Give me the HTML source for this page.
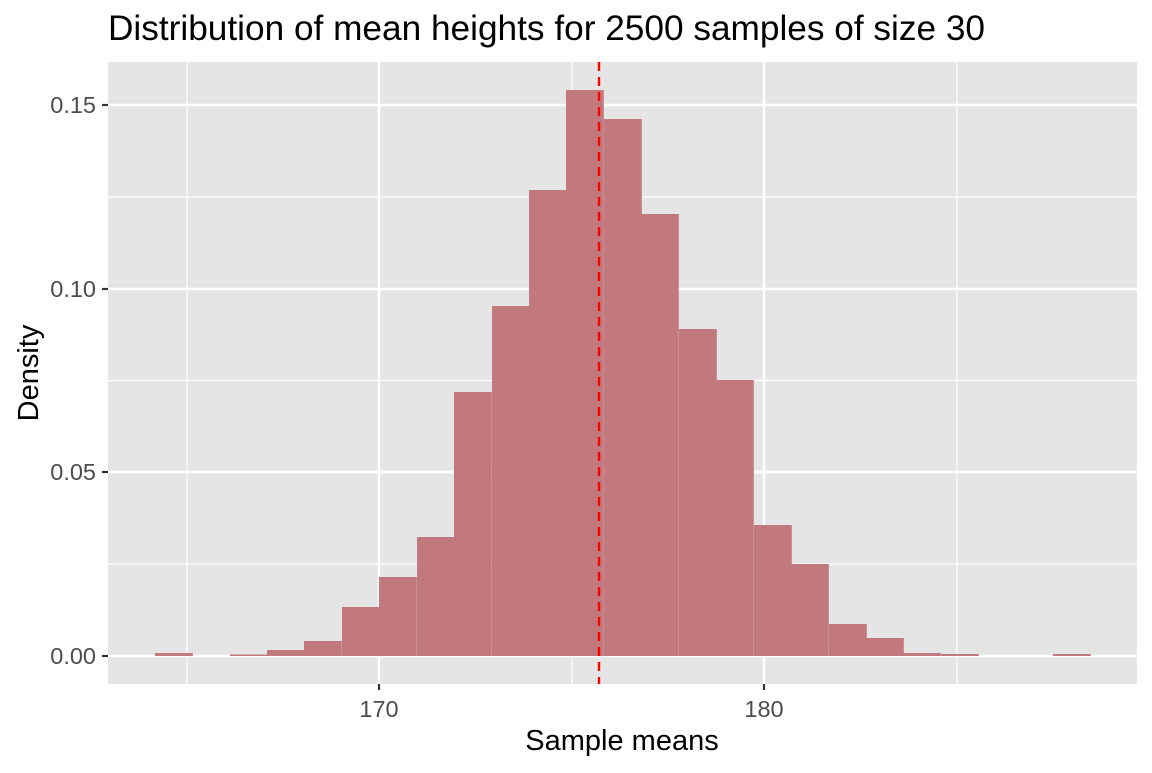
<!DOCTYPE html><html><head><style>body{margin:0;background:#fff}text{font-family:"Liberation Sans",sans-serif}</style></head><body>
<svg width="1152" height="768" xmlns="http://www.w3.org/2000/svg">
<rect width="1152" height="768" fill="#fff"/>
<rect x="108" y="62" width="1029" height="622" fill="#e5e5e5"/>
<g stroke="#fff" stroke-width="1.2">
<line x1="108" x2="1137" y1="564" y2="564"/><line x1="108" x2="1137" y1="380.5" y2="380.5"/><line x1="108" x2="1137" y1="197" y2="197"/>
<line x1="187" x2="187" y1="62" y2="684"/><line x1="572" x2="572" y1="62" y2="684"/><line x1="957" x2="957" y1="62" y2="684"/>
</g>
<g stroke="#fff" stroke-width="2.4">
<line x1="108" x2="1137" y1="656" y2="656"/><line x1="108" x2="1137" y1="472" y2="472"/><line x1="108" x2="1137" y1="289" y2="289"/><line x1="108" x2="1137" y1="105" y2="105"/>
<line x1="379" x2="379" y1="62" y2="684"/><line x1="764" x2="764" y1="62" y2="684"/>
</g>
<g fill="#c2797d">
<rect x="155" y="653" width="37.8" height="3"/>
<rect x="230" y="654.5" width="37.8" height="1.5"/>
<rect x="267" y="650" width="37.8" height="6"/>
<rect x="304" y="641" width="37.8" height="15"/>
<rect x="342" y="607" width="37.8" height="49"/>
<rect x="379" y="577" width="37.8" height="79"/>
<rect x="417" y="537" width="37.8" height="119"/>
<rect x="454" y="392" width="37.8" height="264"/>
<rect x="492" y="306" width="37.8" height="350"/>
<rect x="529" y="190" width="37.8" height="466"/>
<rect x="566" y="90" width="37.8" height="566"/>
<rect x="604" y="119" width="37.8" height="537"/>
<rect x="641" y="214" width="37.8" height="442"/>
<rect x="679" y="329" width="37.8" height="327"/>
<rect x="716" y="380" width="37.8" height="276"/>
<rect x="754" y="525" width="37.8" height="131"/>
<rect x="791" y="564" width="37.8" height="92"/>
<rect x="829" y="624" width="37.8" height="32"/>
<rect x="866" y="638" width="37.8" height="18"/>
<rect x="903" y="653" width="37.8" height="3"/>
<rect x="941" y="654" width="37.8" height="2"/>
<rect x="1053" y="654" width="37.8" height="2"/>
</g>
<line x1="599" x2="599" y1="62" y2="684" stroke="#ff0000" stroke-width="2.4" stroke-dasharray="9,6"/>
<g stroke="#333" stroke-width="2.2">
<line x1="102" x2="108" y1="656" y2="656"/><line x1="102" x2="108" y1="472" y2="472"/><line x1="102" x2="108" y1="289" y2="289"/><line x1="102" x2="108" y1="105" y2="105"/>
<line x1="379" x2="379" y1="684" y2="690"/><line x1="764" x2="764" y1="684" y2="690"/>
</g>
<g font-size="23.5" fill="#4d4d4d" text-anchor="end">
<text x="96" y="664">0.00</text><text x="96" y="480">0.05</text><text x="96" y="297">0.10</text><text x="96" y="113">0.15</text>
</g>
<g font-size="23.5" fill="#4d4d4d" text-anchor="middle">
<text x="379" y="717">170</text><text x="764" y="717">180</text>
</g>
<text x="622" y="750" font-size="29" text-anchor="middle" fill="#000">Sample means</text>
<text transform="translate(38,373) rotate(-90)" font-size="29" text-anchor="middle" fill="#000">Density</text>
<text x="108" y="40" font-size="35" fill="#000" textLength="877" lengthAdjust="spacingAndGlyphs">Distribution of mean heights for 2500 samples of size 30</text>
</svg></body></html>
